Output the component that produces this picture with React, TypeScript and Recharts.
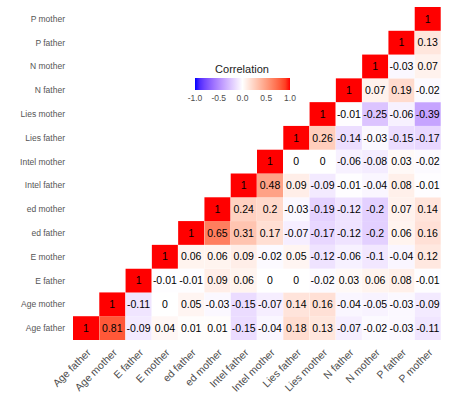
import React from "react";
import { BarChart, Bar, XAxis, YAxis, Cell, LabelList } from "recharts";

const variables = [
  "Age father", "Age mother", "E father", "E mother", "ed father", "ed mother", "Intel father",
  "Intel mother", "Lies father", "Lies mother", "N father", "N mother", "P father", "P mother",
];

// row i holds correlations with columns i..13
const ageFather = [1, 0.81, -0.09, 0.04, 0.01, 0.01, -0.15, -0.04, 0.18, 0.13, -0.07, -0.02, -0.03, -0.11];
const ageMother = [1, -0.11, 0, 0.05, -0.03, -0.15, -0.07, 0.14, 0.16, -0.04, -0.05, -0.03, -0.09];
const eFather = [1, -0.01, -0.01, 0.09, 0.06, 0, 0, -0.02, 0.03, 0.06, 0.08, -0.01];
const eMother = [1, 0.06, 0.06, 0.09, -0.02, 0.05, -0.12, -0.06, -0.1, -0.04, 0.12];
const edFather = [1, 0.65, 0.31, 0.17, -0.07, -0.17, -0.12, -0.2, 0.06, 0.16];
const edMother = [1, 0.24, 0.2, -0.03, -0.19, -0.12, -0.2, 0.07, 0.14];
const intelFather = [1, 0.48, 0.09, -0.09, -0.01, -0.04, 0.08, -0.01];
const intelMother = [1, 0, 0, -0.06, -0.08, 0.03, -0.02];
const liesFather = [1, 0.26, -0.14, -0.03, -0.15, -0.17];
const liesMother = [1, -0.01, -0.25, -0.06, -0.39];
const nFather = [1, 0.07, 0.19, -0.02];
const nMother = [1, -0.03, 0.07];
const pFather = [1, 0.13];
const pMother = [1];

const corrRows = [
  ageFather, ageMother, eFather, eMother, edFather, edMother, intelFather,
  intelMother, liesFather, liesMother, nFather, nMother, pFather, pMother,
];

const legendTicks = [-1, -0.5, 0, 0.5, 1];

// colour ramp in Lab space like ggplot's gradient2 (blue - white - red)
function toLinear(c: number) {
  c /= 255;
  return c <= 0.04045 ? c / 12.92 : Math.pow((c + 0.055) / 1.055, 2.4);
}
function fromLinear(c: number) {
  const v = c <= 0.0031308 ? 12.92 * c : 1.055 * Math.pow(c, 1 / 2.4) - 0.055;
  return Math.max(0, Math.min(255, Math.round(v * 255)));
}
const WX = 0.95047, WY = 1, WZ = 1.08883;
function rgbToLab([r, g, b]: number[]) {
  const R = toLinear(r), G = toLinear(g), B = toLinear(b);
  const x = (R * 0.4124 + G * 0.3576 + B * 0.1805) / WX;
  const y = (R * 0.2126 + G * 0.7152 + B * 0.0722) / WY;
  const z = (R * 0.0193 + G * 0.1192 + B * 0.9505) / WZ;
  const f = (t: number) => (t > 0.008856 ? Math.cbrt(t) : 7.787 * t + 16 / 116);
  const fx = f(x), fy = f(y), fz = f(z);
  return [116 * fy - 16, 500 * (fx - fy), 200 * (fy - fz)];
}
function labToHex([L, a, b]: number[]) {
  const fy = (L + 16) / 116;
  const fx = fy + a / 500;
  const fz = fy - b / 200;
  const inv = (t: number) => (t ** 3 > 0.008856 ? t ** 3 : (t - 16 / 116) / 7.787);
  const x = inv(fx) * WX, y = inv(fy) * WY, z = inv(fz) * WZ;
  const R = x * 3.2406 + y * -1.5372 + z * -0.4986;
  const G = x * -0.9689 + y * 1.8758 + z * 0.0415;
  const B = x * 0.0557 + y * -0.204 + z * 1.057;
  return "#" + [R, G, B].map((c) => fromLinear(c).toString(16).padStart(2, "0")).join("");
}
const LAB_BLUE = rgbToLab([0, 0, 255]);
const LAB_WHITE = rgbToLab([255, 255, 255]);
const LAB_RED = rgbToLab([255, 0, 0]);
function corrColor(v: number) {
  const end = v < 0 ? LAB_BLUE : LAB_RED;
  const t = Math.min(1, Math.abs(v));
  return labToHex(LAB_WHITE.map((w, k) => w + (end[k] - w) * t));
}

// one entry per column, stacked one-unit bars make the rows
const data = variables.map((name, j) => {
  const entry: { [key: string]: string | number | undefined } = { name };
  corrRows.forEach((row, i) => {
    entry[`r${i}`] = j >= i ? 1 : 0;
    entry[`v${i}`] = j >= i ? row[j - i] : undefined;
  });
  return entry;
});

const FONT = "'Liberation Sans', Arial, sans-serif";

function YTick(props: any) {
  const { x, y, payload } = props;
  return (
    <text x={x} y={y} dy="0.35em" textAnchor="end" fontSize={8.5} fill="#555555" fontFamily={FONT}>
      {variables[Math.floor(payload.value)]}
    </text>
  );
}

function Legend() {
  const stops = Array.from({ length: 21 }, (_, k) => -1 + k * 0.1);
  const x0 = 195, x1 = 290;
  return (
    <svg width={474} height={397} style={{ position: "absolute", left: 0, top: 0, pointerEvents: "none" }}>
      <defs>
        <linearGradient id="corrGrad" x1="0" x2="1" y1="0" y2="0">
          {stops.map((s, k) => (
            <stop key={k} offset={`${(k / 20) * 100}%`} stopColor={corrColor(s)} />
          ))}
        </linearGradient>
      </defs>
      <text x={242} y={73} textAnchor="middle" fontSize={11} fill="#1a1a1a" fontFamily={FONT}>
        Correlation
      </text>
      <rect x={x0} y={78} width={x1 - x0} height={12} fill="url(#corrGrad)" />
      {legendTicks.map((t) => (
        <text key={t} x={x0 + ((t + 1) / 2) * (x1 - x0)} y={101} textAnchor="middle" fontSize={8.5} fill="#4d4d4d" fontFamily={FONT}>
          {t.toFixed(1)}
        </text>
      ))}
    </svg>
  );
}

export default function App() {
  return (
    <div style={{ position: "absolute", left: 0, top: 0, width: 474, height: 397, background: "#fff" }}>
      <BarChart
        width={474}
        height={397}
        data={data}
        margin={{ top: 7, right: 33, left: 0, bottom: 0 }}
        barCategoryGap={0}
        barGap={0}
      >
        <XAxis
          dataKey="name"
          interval={0}
          angle={-45}
          textAnchor="end"
          height={57}
          tickLine={false}
          axisLine={false}
          tick={{ fontSize: 10.5, fill: "#4d4d4d", fontFamily: FONT }}
        />
        <YAxis
          type="number"
          domain={[0, 14]}
          ticks={variables.map((_, i) => i + 0.5)}
          interval={0}
          width={73}
          tickLine={false}
          axisLine={false}
          tick={<YTick />}
        />
        {corrRows.map((_, i) => (
          <Bar key={i} dataKey={`r${i}`} stackId="cells" isAnimationActive={false}>
            {data.map((d, j) => (
              <Cell key={j} fill={d[`v${i}`] !== undefined ? corrColor(d[`v${i}`] as number) : "none"} />
            ))}
            <LabelList
              dataKey={`v${i}`}
              position="center"
              fill="#000"
              fontSize={10.5}
              fontFamily={FONT}
            />
          </Bar>
        ))}
      </BarChart>
      <Legend />
    </div>
  );
}
